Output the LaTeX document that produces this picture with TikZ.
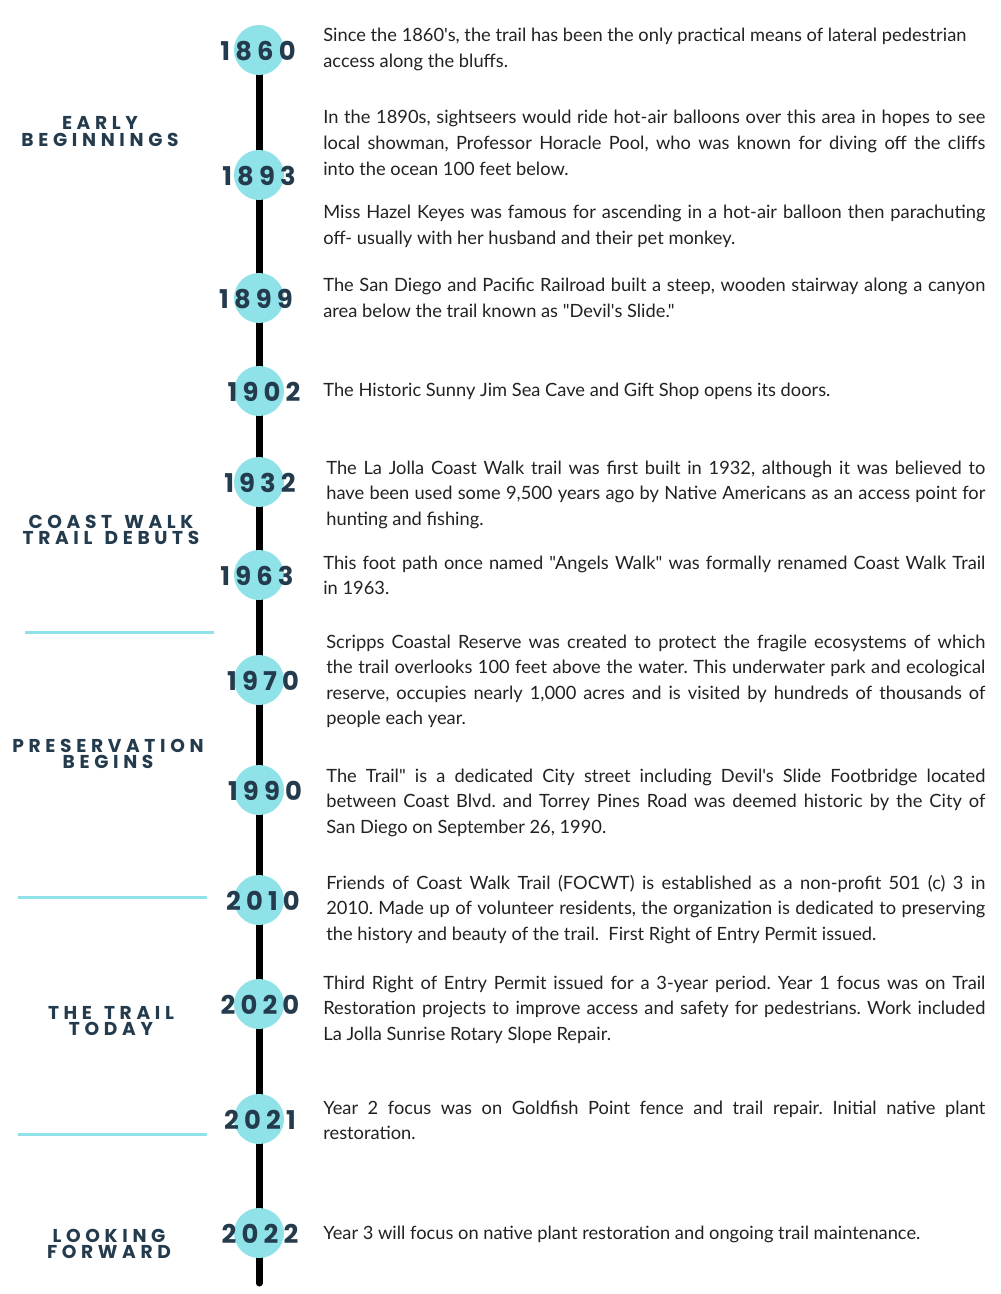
\documentclass[tikz,border=0pt]{standalone}
\usepackage{fontspec}
\setmainfont{Lato}[Ligatures=TeXOff]
\newfontfamily\yearfont{Poppins}[LetterSpace=20]
\newfontfamily\headfont{Poppins}[LetterSpace=25, WordSpace=1.4]
\definecolor{trailcyan}{HTML}{8FE3E8}
\definecolor{trailnavy}{HTML}{233B4C}
\definecolor{entrygray}{HTML}{222222}
\hyphenpenalty=10000
\frenchspacing
\tikzset{
  yearball/.style={circle, fill=trailcyan, minimum size=10mm, inner sep=0pt},
  yearlabel/.style={inner sep=0pt, text=trailnavy, font={\yearfont\bfseries\fontsize{14.7}{16}\selectfont}},
  era/.style={inner sep=0pt, align=center, text=trailnavy, font={\headfont\bfseries\fontsize{10.6}{9.3}\selectfont}},
  entry/.style={anchor=base west, inner sep=0pt, text width=132.4mm, align=justify, text=entrygray, font={\fontsize{10.4}{14.6}\selectfont}},
  entryb/.style={entry, text width=131.8mm},
  divider/.style={trailcyan, line width=0.6mm},
  trail/.style={black, line width=1.4mm, line cap=round}
}
\begin{document}
\begin{tikzpicture}[x=0.2mm, y=-0.2mm]
		\useasboundingbox[fill=white] (0,0) rectangle (1000,1294);

		% Trail line
		\coordinate (trailtop) at (259,50);
		\coordinate (trailend) at (259,1283);
		\draw[trail] (trailtop) -- (trailend);

		% Dividers
		\coordinate (d1a) at (25,632);  \coordinate (d1b) at (214,632);
		\coordinate (d2a) at (18,897);  \coordinate (d2b) at (207,897);
		\coordinate (d3a) at (18,1134); \coordinate (d3b) at (207,1134);
		\draw[divider] (d1a) -- (d1b);
		\draw[divider] (d2a) -- (d2b);
		\draw[divider] (d3a) -- (d3b);

		% Eras
		\node[era] (early) at (100,131.5) {EARLY\\BEGINNINGS};
		\node[era] (debut) at (111,530) {COAST WALK\\TRAIL DEBUTS};
		\node[era] (preserve) at (108,754) {PRESERVATION\\BEGINS};
		\node[era] (today) at (111,1021) {THE TRAIL\\TODAY};
		\node[era] (forward) at (109,1244) {LOOKING\\FORWARD};

		% Years
		\node[yearball] (c1860) at (259,50) {};
		\node[yearlabel] (y1860) at (258,51) {1860};
		\node[yearball] (c1893) at (259,175) {};
		\node[yearlabel] (y1893) at (259,176) {1893};
		\node[yearball] (c1899) at (259,298) {};
		\node[yearlabel] (y1899) at (256,299) {1899};
		\node[yearball] (c1902) at (259,391) {};
		\node[yearlabel] (y1902) at (264,392) {1902};
		\node[yearball] (c1932) at (259,482) {};
		\node[yearlabel] (y1932) at (260,483) {1932};
		\node[yearball] (c1963) at (259,575) {};
		\node[yearlabel] (y1963) at (257,576) {1963};
		\node[yearball] (c1970) at (259,680) {};
		\node[yearlabel] (y1970) at (263,681) {1970};
		\node[yearball] (c1990) at (259,790) {};
		\node[yearlabel] (y1990) at (265,791) {1990};
		\node[yearball] (c2010) at (259,900) {};
		\node[yearlabel] (y2010) at (263,901) {2010};
		\node[yearball] (c2020) at (259,1004) {};
		\node[yearlabel] (y2020) at (260,1005) {2020};
		\node[yearball] (c2021) at (259,1119) {};
		\node[yearlabel] (y2021) at (260,1120) {2021};
		\node[yearball] (c2022) at (259,1233) {};
		\node[yearlabel] (y2022) at (260,1234) {2022};

		% Entries
		\node[entry] (p1860) at (323,42) {Since the 1860's, the trail has been the only practical means of lateral pedestrian\newline access along the bluffs.};
		\node[entry] (p1893) at (323,124) {In the 1890s, sightseers would ride hot-air balloons over this area in hopes to see\linebreak local showman, Professor Horacle Pool, who was known for diving off the cliffs\linebreak into the ocean 100 feet below.};
		\node[entry] (p1893b) at (323,219) {Miss Hazel Keyes was famous for ascending in a hot-air balloon then parachuting\linebreak off- usually with her husband and their pet monkey.};
		\node[entry] (p1899) at (323,292) {The San Diego and Pacific Railroad built a steep, wooden stairway along a canyon\linebreak area below the trail known as "Devil's Slide."};
		\node[entry] (p1902) at (323,397) {The Historic Sunny Jim Sea Cave and Gift Shop opens its doors.};
		\node[entryb] (p1932) at (326,474) {The La Jolla Coast Walk trail was first built in 1932, although it was believed to\linebreak have been used some 9,500 years ago by Native Americans as an access point for\linebreak hunting and fishing.};
		\node[entry] (p1963) at (323,569) {This foot path once named "Angels Walk" was formally renamed Coast Walk Trail\linebreak in 1963.};
		\node[entryb] (p1970) at (326,648) {Scripps Coastal Reserve was created to protect the fragile ecosystems of which\linebreak the trail overlooks 100 feet above the water. This underwater park and ecological\linebreak reserve, occupies nearly 1,000 acres and is visited by hundreds of thousands of\linebreak people each year.};
		\node[entryb] (p1990) at (326,782) {The Trail" is a dedicated City street including Devil's Slide Footbridge located\linebreak between Coast Blvd. and Torrey Pines Road was deemed historic by the City of\linebreak San Diego on September 26, 1990.};
		\node[entryb] (p2010) at (326,889) {Friends of Coast Walk Trail (FOCWT) is established as a non-profit 501 (c) 3 in\linebreak 2010. Made up of volunteer residents, the organization is dedicated to preserving\linebreak the history and beauty of the trail.\ \ First Right of Entry Permit issued.};
		\node[entry] (p2020) at (323,989) {Third Right of Entry Permit issued for a 3-year period. Year 1 focus was on Trail\linebreak Restoration projects to improve access and safety for pedestrians. Work included\linebreak La Jolla Sunrise Rotary Slope Repair.};
		\node[entry] (p2021) at (323,1114) {Year 2 focus was on Goldfish Point fence and trail repair. Initial native plant\linebreak restoration.};
		\node[entry] (p2022) at (323,1239) {Year 3 will focus on native plant restoration and ongoing trail maintenance.};
	\end{tikzpicture}
\end{document}
